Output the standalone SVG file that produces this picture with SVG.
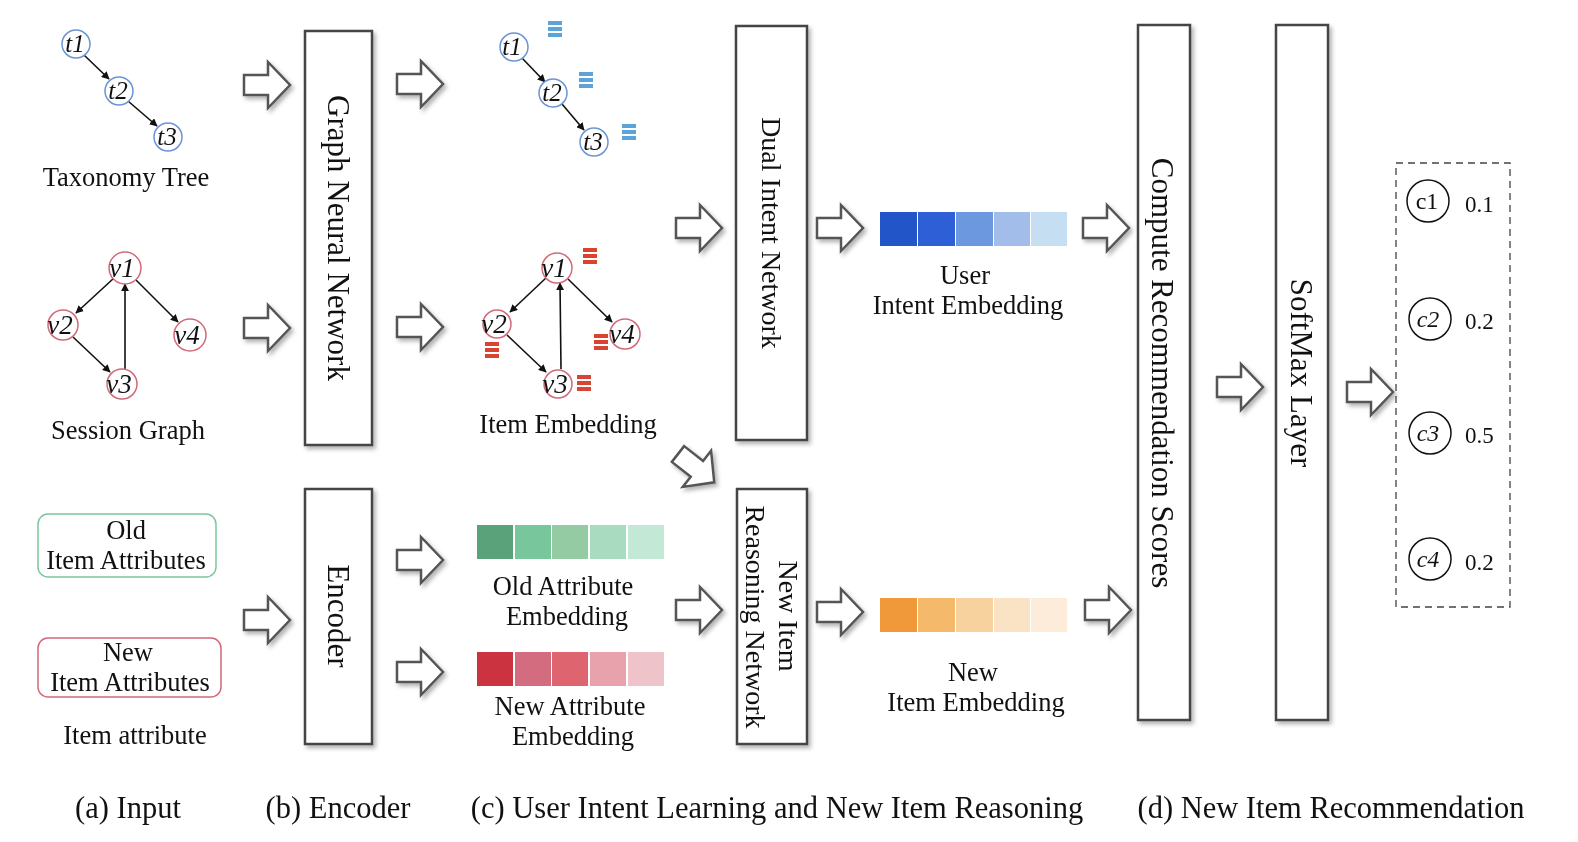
<svg xmlns="http://www.w3.org/2000/svg" width="1578" height="842" viewBox="0 0 1578 842">
<style>
text{font-family:"Liberation Serif","Times New Roman",serif;fill:#111}
.lbl{font-size:26.5px;text-anchor:middle}
.cap{font-size:30.5px;text-anchor:middle}
.rot{font-size:31px;text-anchor:middle}
.rot2{font-size:28px;text-anchor:middle}
.nd{font-size:25px;font-style:italic;text-anchor:middle}
.ndv{font-size:27px;font-style:italic;text-anchor:middle}
.box{fill:#fff;stroke:#444;stroke-width:2.5;filter:url(#sh)}
.barr{fill:#fff;stroke:#555;stroke-width:2.5;stroke-linejoin:miter;filter:url(#sh)}
.tc{fill:#fff;stroke:#6b94d6;stroke-width:1.5}
.vc{fill:#fff;stroke:#d06a78;stroke-width:1.5}
.edge{stroke:#111;stroke-width:1.6;fill:none;marker-end:url(#ah)}
.bb{fill:#5ba3d9}
.rb{fill:#d9432f}
.cc{fill:#fff;stroke:#111;stroke-width:1.5}
.val{font-size:23px}
</style>
<defs>
<filter id="sh" x="-20%" y="-20%" width="150%" height="150%">
<feDropShadow dx="2.5" dy="3" stdDeviation="2" flood-color="#000" flood-opacity="0.3"/>
</filter>
<marker id="ah" viewBox="0 0 10 10" refX="9" refY="5" markerWidth="8" markerHeight="8" orient="auto" markerUnits="userSpaceOnUse">
<path d="M0,0 L10,5 L0,10 Z" fill="#111"/>
</marker>
<path id="blk" d="M0,-10 L24,-10 L24,-23 L46,0 L24,23 L24,10 L0,10 Z"/>
<g id="b3"><rect x="0" y="0" width="14" height="4"/><rect x="0" y="6" width="14" height="4"/><rect x="0" y="12" width="14" height="4"/></g>
</defs>

<g id="connectors">
<g id="block-arrows" class="barr">
<use href="#blk" transform="translate(244,85)"/>
<use href="#blk" transform="translate(244,328)"/>
<use href="#blk" transform="translate(244,620)"/>
<use href="#blk" transform="translate(397,84)"/>
<use href="#blk" transform="translate(397,327)"/>
<use href="#blk" transform="translate(397,560)"/>
<use href="#blk" transform="translate(397,672)"/>
<use href="#blk" transform="translate(676,228)"/>
<use href="#blk" transform="translate(676,610)"/>
<use href="#blk" transform="translate(678,454) rotate(38)"/>
<use href="#blk" transform="translate(817,228)"/>
<use href="#blk" transform="translate(817,612)"/>
<use href="#blk" transform="translate(1083,228)"/>
<use href="#blk" transform="translate(1085,610)"/>
<use href="#blk" transform="translate(1217,387)"/>
<use href="#blk" transform="translate(1347,392)"/>
</g>
<g id="graph-edges">
<line class="edge" x1="84" y1="55" x2="109" y2="79"/>
<line class="edge" x1="128" y1="101" x2="157" y2="126"/>
<line class="edge" x1="114" y1="278" x2="76" y2="313"/>
<line class="edge" x1="136" y1="280" x2="178" y2="322"/>
<line class="edge" x1="73" y1="337" x2="110" y2="372"/>
<line class="edge" x1="125" y1="369" x2="125" y2="284"/>
<line class="edge" x1="522" y1="58" x2="545" y2="82"/>
<line class="edge" x1="562" y1="104" x2="584" y2="130"/>
<line class="edge" x1="547" y1="277" x2="510" y2="312"/>
<line class="edge" x1="568" y1="279" x2="612" y2="322"/>
<line class="edge" x1="507" y1="335" x2="546" y2="372"/>
<line class="edge" x1="561" y1="369" x2="560" y2="283"/>
</g>
</g>

<g id="taxonomy-tree">
<circle class="tc" cx="76" cy="44" r="14"/><text class="nd" x="75" y="52">t1</text>
<circle class="tc" cx="119" cy="91" r="14"/><text class="nd" x="118" y="99">t2</text>
<circle class="tc" cx="168" cy="137" r="14"/><text class="nd" x="167" y="145">t3</text>
<text class="lbl" x="126" y="186">Taxonomy Tree</text>
</g>

<g id="session-graph">
<circle class="vc" cx="125" cy="268" r="16"/><text class="ndv" x="122" y="277">v1</text>
<circle class="vc" cx="63" cy="325" r="15"/><text class="ndv" x="60" y="334">v2</text>
<circle class="vc" cx="122" cy="384" r="15"/><text class="ndv" x="119" y="393">v3</text>
<circle class="vc" cx="190" cy="335" r="16"/><text class="ndv" x="187" y="344">v4</text>
<text class="lbl" x="128" y="439">Session Graph</text>
</g>

<g id="old-item-attributes">
<rect x="38" y="514" width="178" height="63" rx="10" fill="#fff" stroke="#7cc6a0" stroke-width="1.5"/>
<text class="lbl" x="126" y="539">Old</text>
<text class="lbl" x="126" y="569">Item Attributes</text>
</g>
<g id="new-item-attributes">
<rect x="38" y="638" width="183" height="59" rx="10" fill="#fff" stroke="#d06a78" stroke-width="1.5"/>
<text class="lbl" x="128" y="661">New</text>
<text class="lbl" x="130" y="691">Item Attributes</text>
</g>
<text class="lbl" x="135" y="744">Item attribute</text>

<g id="gnn">
<rect class="box" x="305" y="31" width="67" height="414"/>
<text class="rot" transform="translate(328,238) rotate(90)">Graph Neural Network</text>
</g>
<g id="encoder">
<rect class="box" x="305" y="489" width="67" height="255"/>
<text class="rot" transform="translate(328,616) rotate(90)">Encoder</text>
</g>

<g id="taxonomy-embedding">
<circle class="tc" cx="514" cy="47" r="14"/><text class="nd" x="512" y="55">t1</text>
<circle class="tc" cx="553" cy="93" r="14"/><text class="nd" x="552" y="101">t2</text>
<circle class="tc" cx="594" cy="142" r="14"/><text class="nd" x="593" y="150">t3</text>
<g class="bb"><use href="#b3" x="548" y="21"/><use href="#b3" x="579" y="72"/><use href="#b3" x="622" y="124"/></g>
</g>

<g id="item-embedding">
<circle class="vc" cx="557" cy="268" r="15"/><text class="ndv" x="554" y="277">v1</text>
<circle class="vc" cx="497" cy="324" r="14"/><text class="ndv" x="494" y="333">v2</text>
<circle class="vc" cx="558" cy="384" r="14"/><text class="ndv" x="555" y="393">v3</text>
<circle class="vc" cx="625" cy="334" r="15"/><text class="ndv" x="622" y="343">v4</text>
<g class="rb"><use href="#b3" x="583" y="248"/><use href="#b3" x="485" y="342"/><use href="#b3" x="594" y="334"/><use href="#b3" x="577" y="375"/></g>
<text class="lbl" x="568" y="433">Item Embedding</text>
</g>

<g id="old-attribute-embedding">
<rect x="477" y="525" width="36" height="34" fill="#5aa37a"/>
<rect x="515" y="525" width="36" height="34" fill="#78c79c"/>
<rect x="552" y="525" width="36" height="34" fill="#94cba2"/>
<rect x="590" y="525" width="36" height="34" fill="#a9dbc1"/>
<rect x="628" y="525" width="36" height="34" fill="#c4e8d6"/>
<text class="lbl" x="563" y="595">Old Attribute</text>
<text class="lbl" x="567" y="625">Embedding</text>
</g>
<g id="new-attribute-embedding">
<rect x="477" y="652" width="36" height="34" fill="#cc3340"/>
<rect x="515" y="652" width="36" height="34" fill="#d46c7f"/>
<rect x="552" y="652" width="36" height="34" fill="#de6470"/>
<rect x="590" y="652" width="36" height="34" fill="#e8a2ab"/>
<rect x="628" y="652" width="36" height="34" fill="#eec3c9"/>
<text class="lbl" x="570" y="715">New Attribute</text>
<text class="lbl" x="573" y="745">Embedding</text>
</g>

<g id="dual-intent-network">
<rect class="box" x="736" y="26" width="71" height="414"/>
<text class="rot2" transform="translate(762,233) rotate(90)">Dual Intent Network</text>
</g>
<g id="new-item-reasoning-network">
<rect class="box" x="737" y="489" width="70" height="255"/>
<text class="rot2" transform="translate(779,616) rotate(90)">New Item</text>
<text class="rot2" transform="translate(746,617) rotate(90)">Reasoning  Network</text>
</g>

<g id="user-intent-embedding">
<rect x="880" y="212" width="37" height="34" fill="#2255c8"/>
<rect x="918" y="212" width="37" height="34" fill="#2f5fd6"/>
<rect x="956" y="212" width="37" height="34" fill="#6b98de"/>
<rect x="994" y="212" width="36" height="34" fill="#a3bdea"/>
<rect x="1031" y="212" width="36" height="34" fill="#c5def2"/>
<text class="lbl" x="965" y="284">User</text>
<text class="lbl" x="968" y="314">Intent Embedding</text>
</g>
<g id="new-item-embedding">
<rect x="880" y="598" width="37" height="34" fill="#f0993a"/>
<rect x="918" y="598" width="37" height="34" fill="#f4b96a"/>
<rect x="956" y="598" width="37" height="34" fill="#f7d29f"/>
<rect x="994" y="598" width="36" height="34" fill="#fae3c4"/>
<rect x="1031" y="598" width="36" height="34" fill="#fcecd9"/>
<text class="lbl" x="973" y="681">New</text>
<text class="lbl" x="976" y="711">Item Embedding</text>
</g>

<g id="compute-scores">
<rect class="box" x="1138" y="25" width="52" height="695"/>
<text class="rot" transform="translate(1152,373) rotate(90)">Compute Recommendation Scores</text>
</g>
<g id="softmax">
<rect class="box" x="1276" y="25" width="52" height="695"/>
<text class="rot" transform="translate(1291,373) rotate(90)">SoftMax Layer</text>
</g>

<g id="output">
<rect x="1396" y="163" width="114" height="444" fill="none" stroke="#444" stroke-width="1.3" stroke-dasharray="7,5"/>
<circle class="cc" cx="1428" cy="201" r="21"/>
<text x="1427" y="209" style="font-size:24px;text-anchor:middle">c1</text>
<circle class="cc" cx="1430" cy="319" r="21"/>
<text class="nd" x="1428" y="327" style="font-size:24px">c2</text>
<circle class="cc" cx="1430" cy="433" r="21"/>
<text class="nd" x="1428" y="441" style="font-size:24px">c3</text>
<circle class="cc" cx="1430" cy="559" r="21"/>
<text class="nd" x="1428" y="567" style="font-size:24px">c4</text>
<text class="val" x="1465" y="212">0.1</text>
<text class="val" x="1465" y="329">0.2</text>
<text class="val" x="1465" y="443">0.5</text>
<text class="val" x="1465" y="570">0.2</text>
</g>

<g id="captions">
<text class="cap" x="128" y="818">(a) Input</text>
<text class="cap" x="338" y="818">(b) Encoder</text>
<text class="cap" x="777" y="818">(c) User Intent Learning and New Item Reasoning</text>
<text class="cap" x="1331" y="818">(d) New Item Recommendation</text>
</g>
</svg>
